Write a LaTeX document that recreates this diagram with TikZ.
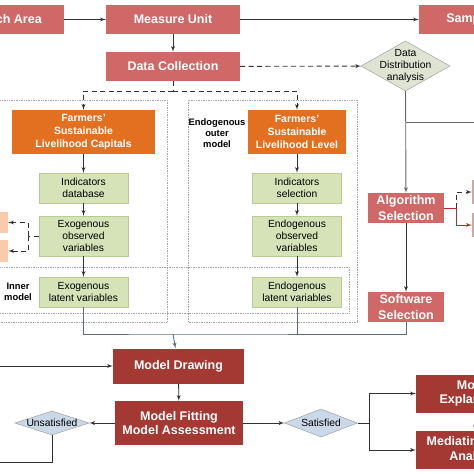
\documentclass[tikz,border=0pt]{standalone}
\usepackage{fontspec}
\setmainfont{Liberation Sans}
\usepackage{tikz}
\usetikzlibrary{arrows,shapes.geometric}
\definecolor{salmon}{RGB}{207,104,102}
\definecolor{darkred}{RGB}{163,57,50}
\definecolor{capital}{RGB}{226,112,32}
\definecolor{varfill}{RGB}{214,227,185}
\definecolor{varline}{RGB}{186,204,150}
\definecolor{ddfill}{RGB}{222,227,210}
\definecolor{satfill}{RGB}{202,216,231}
\definecolor{peach}{RGB}{249,203,170}
\definecolor{tan}{RGB}{205,170,160}
\definecolor{linegrey}{RGB}{50,50,50}
\definecolor{midgrey}{RGB}{105,105,105}
\definecolor{bluegrey}{RGB}{95,108,128}
\definecolor{groupgrey}{RGB}{165,165,165}
\definecolor{redline}{RGB}{190,40,40}

\begin{document}
\begin{tikzpicture}[x=1pt,y=-1pt]
\tikzset{redbox/.style = {shape=rectangle,fill=salmon,text=white,inner sep=0pt,align=center,font=\fontsize{12.5}{15.5}\selectfont\bfseries}}
\tikzset{darkbox/.style = {redbox,fill=darkred}}
\tikzset{capbox/.style = {shape=rectangle,fill=capital,text=white,inner sep=0pt,align=center,minimum height=44pt,font=\fontsize{10.5}{13}\selectfont\bfseries}}
\tikzset{varbox/.style = {shape=rectangle,fill=varfill,draw=varline,inner sep=0pt,align=center,minimum width=89pt,font=\fontsize{10.3}{12.3}\selectfont}}
\tikzset{smallbox/.style = {shape=rectangle,inner sep=0pt,minimum width=36pt}}
\tikzset{choice/.style = {shape=diamond,fill=satfill,draw=midgrey!70,inner sep=0pt,aspect=3,font=\fontsize{10.3}{12.3}\selectfont}}
\tikzset{grouplabel/.style = {align=center,font=\fontsize{9.4}{11.3}\selectfont\bfseries}}
\tikzset{group/.style = {draw=groupgrey,densely dotted,line width=0.7pt}}
\tikzset{line/.style = {draw=linegrey,line width=0.9pt}}
\tikzset{edge/.style = {line,->,> = latex'}}
\tikzset{dashline/.style = {line,dash pattern=on 5pt off 3.5pt}}
\tikzset{dashedge/.style = {edge,dash pattern=on 5pt off 3.5pt}}
\tikzset{greyedge/.style = {edge,draw=midgrey}}
\tikzset{blueline/.style = {line,draw=bluegrey}}
\tikzset{rededge/.style = {edge,draw=redline}}
\useasboundingbox (0,0) rectangle (474,474);
\clip (0,0) rectangle (474,474);
% groups
\draw[group] (-5,100) rectangle (167,322);
\draw[group] (188,100) rectangle (357,322);
\draw[group] (-5,267) rectangle (349,313);
\node[grouplabel] (innerlab) at (18,291.5) {Inner\\model};
\node[grouplabel] (outerlab) at (217,133) {Endogenous\\outer\\model};
% vertices
\node[redbox,minimum width=132pt,minimum height=29pt] (area) at (-2,19.5) {Research Area};
\node[redbox,minimum width=134pt,minimum height=29pt] (unit) at (173,19.5) {Measure Unit};
\node[redbox,minimum width=158pt,minimum height=29pt] (sample) at (498,19.5) {Sample Selection};
\node[redbox,minimum width=134pt,minimum height=29pt] (collect) at (173,66.5) {Data Collection};
\node[shape=diamond,fill=ddfill,draw=midgrey!70,inner sep=-4.3pt,aspect=1.78,minimum width=89pt,minimum height=50pt,align=center,font=\fontsize{10.3}{12.3}\selectfont] (distr) at (405.5,66) {Data\\Distribution\\analysis};
\node[capbox,minimum width=143pt] (cap) at (83.5,132) {Farmers’\\Sustainable\\Livelihood Capitals};
\node[capbox,minimum width=98pt] (level) at (297,132) {Farmers’\\Sustainable\\Livelihood Level};
\node[varbox,minimum height=30pt] (indb) at (83.5,188) {Indicators\\database};
\node[varbox,minimum height=40pt] (exobs) at (83.5,236) {Exogenous\\observed\\variables};
\node[varbox,minimum height=30pt] (exlat) at (83.5,292) {Exogenous\\latent variables};
\node[varbox,minimum height=30pt] (insel) at (297,188) {Indicators\\selection};
\node[varbox,minimum height=40pt] (enobs) at (297,236) {Endogenous\\observed\\variables};
\node[varbox,minimum height=30pt] (enlat) at (297,292) {Endogenous\\latent variables};
\node[smallbox,fill=peach,minimum height=21pt] (peachA) at (-10,222.5) {};
\node[smallbox,fill=peach,minimum height=22pt] (peachB) at (-10,251) {};
\node[redbox,minimum width=76pt,minimum height=30pt] (alg) at (406,208) {Algorithm\\Selection};
\node[smallbox,fill=tan,minimum width=28pt,minimum height=24pt] (tanA) at (486,192) {};
\node[smallbox,fill=tan,minimum width=28pt,minimum height=24pt] (tanB) at (486,225) {};
\node[redbox,minimum width=76pt,minimum height=30pt] (soft) at (406,307) {Software\\Selection};
\node[darkbox,minimum width=131pt,minimum height=35pt] (mdraw) at (178.5,366) {Model Drawing};
\node[darkbox,minimum width=128pt,minimum height=44pt,font=\fontsize{12.5}{14.5}\selectfont\bfseries] (mfit) at (179,423) {Model Fitting\\Model Assessment};
\node[choice,aspect=3.1] (unsat) at (52,423) {Unsatisfied};
\node[choice,minimum width=73pt,minimum height=28pt,aspect=2.6] (sat) at (321,423) {Satisfied};
\node[darkbox,minimum width=118pt,minimum height=38pt,font=\fontsize{12.5}{14.5}\selectfont\bfseries] (mexp) at (475,393.5) {Model\\Explanation};
\node[darkbox,minimum width=118pt,minimum height=38pt,font=\fontsize{12.5}{14.5}\selectfont\bfseries] (med) at (475,450) {Mediating Effect\\Analysis};
\coordinate (dcsplit) at (173,91);
\coordinate (obsfork) at (28,236);
\coordinate (ddbranch) at (405.5,122);
\coordinate (offright) at (480,122);
\coordinate (algfork) at (456,208);
\coordinate (collectpt) at (173,334);
\coordinate (loopin) at (-10,366);
\coordinate (loopout) at (-10,462);
\coordinate (satfork) at (369,423);

%edges
\draw[edge] (area) -- (unit);
\draw[edge] (unit) -- (sample);
\draw[edge] (unit) -- (collect);
\draw[dashedge] (collect) -- (distr);
\draw[dashline] (collect) -- (dcsplit);
\draw[dashedge] (dcsplit) -| (cap);
\draw[dashedge] (dcsplit) -| (level);
\draw[edge] (cap) -- (indb);
\draw[edge] (indb) -- (exobs);
\draw[edge] (exobs) -- (exlat);
\draw[edge] (level) -- (insel);
\draw[edge] (insel) -- (enobs);
\draw[edge] (enobs) -- (enlat);
\draw[dashline] (exobs) -- (obsfork);
\draw[dashedge] (obsfork) |- (peachA);
\draw[dashedge] (obsfork) |- (peachB);
\draw[greyedge] (distr) -- (alg);
\draw[line,draw=midgrey] (ddbranch) -- (offright);
\draw[rededge] (alg) -- (algfork) |- (tanB);
\draw[dashedge] (algfork) |- (tanA);
\draw[edge] (alg) -- (soft);
\draw[blueline] (exlat) |- (collectpt) -| (soft);
\draw[blueline] (enlat) -- (enlat |- collectpt);
\draw[edge,draw=bluegrey] (collectpt) -- (mdraw);
\draw[edge] (loopin) -- (mdraw);
\draw[edge] (mdraw) -- (mfit);
\draw[edge] (mfit) -- (unsat);
\draw[line] (unsat) |- (loopout);
\draw[edge] (mfit) -- (sat);
\draw[line] (sat) -- (satfork);
\draw[edge] (satfork) |- (mexp);
\draw[edge] (satfork) |- (med);
\draw[edge] (mexp) -- (med);
\end{tikzpicture}
\end{document}
